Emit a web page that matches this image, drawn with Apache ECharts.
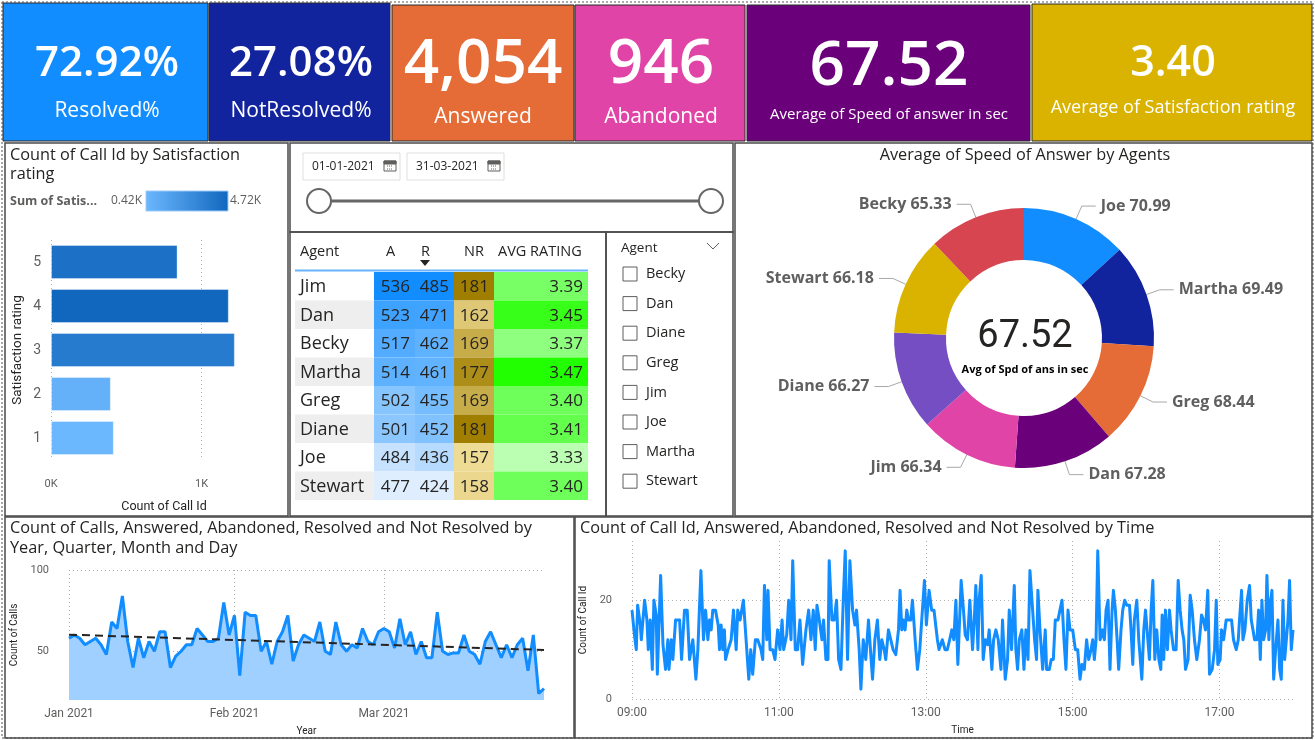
<!DOCTYPE html>
<html><head><meta charset="utf-8">
<script src="https://cdn.jsdelivr.net/npm/echarts@6/dist/echarts.min.js"></script>
<style>html,body{margin:0;padding:0;background:#fff;}#c{width:1315px;height:740px;}</style>
</head><body><div id="c"></div>
<script>
// ---------------- DATA ----------------
const kpiValues = ['72.92%', '27.08%', '4,054', '946', '67.52', '3.40'];
const kpiLabels = ['Resolved%', 'NotResolved%', 'Answered', 'Abandoned', 'Average of Speed of answer in sec', 'Average of Satisfaction rating'];

const ratingCats = ['1', '2', '3', '4', '5'];
const ratingCounts = [417, 397, 1220, 1180, 840];

const dateRange = ['01-01-2021', '31-03-2021'];

const tableHeaders = ['Agent', 'A', 'R', 'NR', 'AVG RATING'];
const agents = ['Jim', 'Dan', 'Becky', 'Martha', 'Greg', 'Diane', 'Joe', 'Stewart'];
const answered = [536, 523, 517, 514, 502, 501, 484, 477];
const resolved = [485, 471, 462, 461, 455, 452, 436, 424];
const notResolved = [181, 162, 169, 177, 169, 181, 157, 158];
const avgRating = [3.39, 3.45, 3.37, 3.47, 3.40, 3.41, 3.33, 3.40];

const slicerAgents = ['Becky', 'Dan', 'Diane', 'Greg', 'Jim', 'Joe', 'Martha', 'Stewart'];

const donutAgents = ['Joe', 'Martha', 'Greg', 'Dan', 'Jim', 'Diane', 'Stewart', 'Becky'];
const donutSpeed = [70.99, 69.49, 68.44, 67.28, 66.34, 66.27, 66.18, 65.33];
const donutCenterValue = '67.52';

const dailyStart = '2021-01-01';
const dailyCalls = [58,60,58,54,56,58,54,48,68,64, 84,56,40,58,46,56,50,62,62,40,
  47,50,54,54,64,60,56,56,58,80, 60,72,35,74,72,72,50,56,42,56,
  62,72,44,54,60,58,56,68,50,48, 68,54,50,54,52,64,56,54,62,64,
  62,52,70,54,62,48,56,46,46,74, 50,48,49,49,60,50,48,42,56,62,
  54,46,54,46,54,58,38,60,24,27];
const trendEnds = [60.2, 50.8];

// [minutes after 09:00, count of calls]
const callsByTime = [[0,18],[2,13],[3.5,10],[4.6,19],[6.8,15],[7.6,12],[10.3,20],[12.2,16],[13.3,10],[14.9,16],[16.6,6],[17.9,20],[19.8,17],[20.7,5],[23.4,25],[25.3,11],[27.4,6],[29.3,12],[30.2,6],[32.1,12],[33.4,8],[35.6,16],[38.9,16],[40.5,8],[42.9,18],[45.1,18],[47,8],[49.7,12],[52.2,4],[53.8,10],[55.2,10],[56.3,26],[58.4,12],[60.1,18],[62,12],[63.3,16],[64.7,14],[66,18],[68.2,18],[70.4,15],[71.5,10],[72.8,15],[74.2,10],[75.5,14],[76.4,8],[78.5,10],[81,12],[82.9,18],[85.1,10],[86.4,18],[88.3,16],[91,20],[93.2,12],[95.4,4],[97,10],[98.6,5],[100.8,12],[102.7,12],[105.4,10],[106.8,8],[108.2,23],[110.1,12],[111.1,22],[112.8,10],[114.9,10],[116.8,8],[119,14],[120.9,10],[122.6,16],[123.9,10],[126.4,13],[128,20],[129.9,12],[131.3,28],[133.4,10],[135.3,10],[137.2,16],[139.4,7],[142.1,14],[144.3,18],[146.2,12],[148.1,18],[149.7,10],[151.1,19],[153,16],[155.2,12],[156.5,16],[158.4,8],[160.1,8],[161.1,28],[163.3,16],[165.2,16],[167.1,20],[168.8,8],[170.7,6],[172.6,20],[174.2,30],[176.1,8],[178,28],[180.2,18],[182.1,15],[183.4,18],[185.6,10],[187,2],[188.9,12],[191,8],[193.2,16],[194.8,10],[196.5,4],[198.4,12],[200.5,16],[202.4,8],[204.1,12],[206,10],[207.3,8],[209.5,14],[211.4,12],[213.3,10],[215.5,9],[217.7,14],[219,22],[220.4,14],[221.5,16],[223.1,14],[224.5,18],[225.8,16],[227.7,16],[229.1,20],[231.3,12],[233.2,6],[235.1,10],[236.7,16],[238.9,24],[240.5,15],[242.7,22],[244.8,18],[246.7,18],[249.5,12],[250.8,10],[253.5,12],[255.7,10],[257.6,10],[259.5,12],
[261.3,14],[262.9,12],[264.6,20],[266.2,7],[268.9,24],[271.1,17],[272.2,13],[274.1,12],[276,20],[278.2,10],[279.6,16],[280.9,23],[282.6,10],[283.6,20],[285.3,25],[286.9,8],[288.6,12],[290.5,11],[291.8,14],[294,6],[295.4,12],[297.3,14],[299.2,12],[301.4,6],[302.7,16],[304.9,4],[306.8,8],[308.2,18],[310.1,10],[312.3,23],[313.6,10],[315,6],[316.4,12],[318.5,14],[320.2,6],[321.8,14],[323.5,8],[325.1,26],[327.3,18],[328.9,12],[330.5,8],[331.6,22],[333.3,14],[335.5,6],[337.6,14],[338.7,6],[340.9,6],[342.5,8],[344.2,8],[345.8,16],[348,16],[349.6,18],[351.3,20],[352.9,12],[354.5,6],[356.2,18],[357.8,14],[360,14],[362.2,10],[364.1,10],[366,4],[367.6,7],[369.5,6],[371.4,12],[373.1,8],[375,10],[376.4,12],[377.7,8],[379.1,12],[380.5,30],[382.4,12],[384.5,14],[385.9,12],[387.3,18],[388.9,20],[390.5,6],[392.2,18],[393.3,22],[394.9,18],[396.3,12],[397.6,6],[399.5,14],[400.9,18],[402.5,20],[404.2,19],[406.4,19],[407.7,14],[409.1,7],[410.4,16],[412.4,20],[414,12],[416.5,4],[418.1,14],[419.5,18],[421.4,12],[422.7,8],[424.1,18],[425.5,24],[427.1,8],[428.7,14],[430.4,8],[432,6],[433.1,17],[434.4,8],[435.8,18],[437.4,10],[439.1,18],[440.4,14],[442.4,10],[444.5,10],[446.2,24],[447.8,18],[449.4,14],[450.8,12],[452.2,6],[454.3,8],[456,21],[457.6,18],[459.5,12],[461.4,8],[463.6,12],[465.3,17],[466.9,16],[468.5,14],[470.4,22],[471.8,5],[474,6],[475.9,10],[477.3,20],[478.6,7],[480.5,8],[481.6,14],[483.3,12],[485.4,16],[487.6,16],[489.8,16],[491.4,12],[493.6,10],[495.3,12],[496.3,16],[498,22],[499.1,12],[500.7,14],[502.6,20],[504.5,23],[505.9,16],[507.3,14],[508.6,12],[510.5,12],[511.9,18],[513.3,8],[514.6,20],[516,12],[517.6,14],[518.7,25],[520.3,12],[521.7,20],[522.8,22],[524.2,4],[525.8,10],[527.7,16],[529.1,6],[530.4,4],[531.8,20],[533.2,8],[534.5,8],[535.9,16],[537.2,24],[538.6,10],[540,14]];

// ---------------- STYLE ----------------
const FONT = '"Open Sans", "Noto Sans", sans-serif';
const TFONT = 'Roboto, "Noto Sans", sans-serif';
const TXT = '#252423', GRAY = '#605E5C';
const kpiColors = ['#118DFF', '#12239E', '#E66C37', '#E044A7', '#6B007B', '#D9B300'];
const donutColors = ['#118DFF', '#12239E', '#E66C37', '#6B007B', '#E044A7', '#744EC2', '#D9B300', '#D64550'];
const gridDot = { type: [1, 3], color: '#B3B0AD', width: 1 };
const TITLE = 16.3;

const G = [];
function R(x, y, w, h, fill, stroke, lw, dash) {
  G.push({ type: 'rect', silent: true, shape: { x, y, width: w, height: h },
    style: { fill: fill || 'none', stroke: stroke || 'none', lineWidth: lw || 1, lineDash: dash || null } });
}
function T(x, y, text, o) {
  o = o || {};
  G.push({ type: 'text', silent: true, x, y, rotation: o.rot || 0, z: 20,
    style: { text, fill: o.color || TXT, fontSize: o.size || 12, fontFamily: o.family || FONT,
      fontWeight: o.weight || 'normal', textAlign: o.align || 'left', align: o.align || 'left',
      textVerticalAlign: 'middle', verticalAlign: 'middle' } });
}
function L(points, stroke, lw, dash) {
  G.push({ type: 'polyline', silent: true, shape: { points }, style: { stroke, lineWidth: lw || 1, fill: 'none', lineDash: dash || null } });
}
function C(cx, cy, r, fill, stroke, lw) {
  G.push({ type: 'circle', silent: true, shape: { cx, cy, r }, style: { fill, stroke, lineWidth: lw || 1 } });
}

// KPI cards
const cardBox = [[3,3,205,138],[209,3,181,138],[392,5,182,136],[575,5,170,136],[747,5,283,136],[1032,4,280,137]];
const cardVal = [[107,64,42],[301,64,42],[483,65,62],[661,65,62],[889,67,62],[1173,64,43]];
const cardLab = [[107,111,21],[301,111,21],[483,117,21],[661,117,21],[889,115,15],[1173,108,18]];
cardBox.forEach((b, i) => {
  R(b[0], b[1], b[2], b[3], kpiColors[i], '#2b2b2b', 1);
  T(cardVal[i][0], cardVal[i][1], kpiValues[i], { color: '#fff', size: cardVal[i][2], weight: 600, align: 'center' });
  T(cardLab[i][0], cardLab[i][1], kpiLabels[i], { color: '#fff', size: cardLab[i][2], align: 'center' });
});

// page dotted border
R(2, 2, 1311, 736, null, '#555', 1, [2, 2]);

// panels
[[5,143,283,373],[290,143,443,89],[290,232,316,284],[606,232,127,284],[735,143,577,373],[5,517,569,221],[575,517,737,221]]
  .forEach(p => R(p[0], p[1], p[2], p[3], null, '#4a4a4a', 1.5));

// bar panel texts
T(10, 155, 'Count of Call Id by Satisfaction', { size: TITLE });
T(10, 174, 'rating', { size: TITLE });
T(10, 201, 'Sum of Satis...', { size: 12.5, weight: 'bold', color: GRAY });
T(142, 201, (Math.min(...ratingCounts.map((c, i) => c * (i + 1))) / 1000).toFixed(2) + 'K', { size: 12, color: GRAY, align: 'right' });
T(230, 201, (Math.max(...ratingCounts.map((c, i) => c * (i + 1))) / 1000).toFixed(2) + 'K', { size: 12, color: GRAY });
G.push({ type: 'rect', silent: true, shape: { x: 146, y: 191, width: 82, height: 20 },
  style: { stroke: '#9ccaf7', lineWidth: 1, fill: { type: 'linear', x: 0, y: 0, x2: 1, y2: 0,
    colorStops: [{ offset: 0, color: '#6CB8FF' }, { offset: 1, color: '#1167BE' }] } } });

// date slicer
[[303, dateRange[0]], [407, dateRange[1]]].forEach(d => {
  R(d[0], 153, 97, 27, '#fff', '#E1DFDD', 1);
  T(d[0] + 9, 167, d[1], { size: 12 });
  R(d[0] + 81, 161, 12, 10, 'none', GRAY, 1);
  R(d[0] + 81, 161, 12, 3, GRAY, GRAY, 1);
  L([[d[0] + 84, 166], [d[0] + 90, 166]], GRAY, 1, [1, 1]);
  L([[d[0] + 84, 169], [d[0] + 90, 169]], GRAY, 1, [1, 1]);
});
L([[319, 201], [711, 201]], '#666', 3);
C(319, 201, 12, '#fff', '#666', 2);
C(711, 201, 12, '#fff', '#666', 2);

// table headers
const hdrX = [300, 386, 421, 464, 498];
tableHeaders.forEach((h, i) => T(hdrX[i], 252, h, { size: 14.5 }));
G.push({ type: 'polygon', silent: true, shape: { points: [[420, 260], [430, 260], [425, 266]] }, style: { fill: TXT } });
L([[295, 270.5], [588, 270.5]], '#6AB4FF', 2);

// agent slicer
T(621, 248, 'Agent', { size: 13.5 });
L([[707, 243], [713, 249], [719, 243]], GRAY, 1);
slicerAgents.forEach((a, i) => {
  const y = 274 + i * 29.6;
  R(623, y - 7, 14, 14, '#fff', '#605E5C', 1);
  T(646, y, a, { size: 14.5 });
});

// donut texts
T(1025, 155, 'Average of Speed of Answer by Agents', { size: TITLE, align: 'center' });
T(1025, 337, donutCenterValue, { size: 38, family: TFONT, align: 'center' });
T(1025, 370, 'Avg of Spd of ans in sec', { size: 11, weight: 'bold', color: '#000', align: 'center' });

// bottom titles
T(10, 528, 'Count of Calls, Answered, Abandoned, Resolved and Not Resolved by', { size: TITLE });
T(10, 548, 'Year, Quarter, Month and Day', { size: TITLE });
T(580, 528, 'Count of Call Id, Answered, Abandoned, Resolved and Not Resolved by Time', { size: TITLE });

// ---------------- DERIVED ----------------
const dates = [];
{ const d0 = new Date(dailyStart + 'T00:00:00Z');
  for (let i = 0; i < dailyCalls.length; i++) { const d = new Date(d0.getTime() + i * 86400000); dates.push(d.toISOString().slice(0, 10)); } }
const months = ['Jan','Feb','Mar','Apr','May','Jun','Jul','Aug','Sep','Oct','Nov','Dec'];

const tableCols = [answered, resolved, notResolved, avgRating];
const colEdges = [0, 79, 120, 159, 199, 293];
const colRamps = [[[222,238,254],[17,141,255]], [[222,238,254],[17,141,255]], [[238,220,148],[160,126,0]], [[187,255,179],[34,255,0]]];
function cellColor(c, v) {
  const arr = tableCols[c], mn = Math.min(...arr), mx = Math.max(...arr);
  const t = mx === mn ? 1 : (v - mn) / (mx - mn);
  const a = colRamps[c][0], b = colRamps[c][1];
  return 'rgb(' + a.map((x, k) => Math.round(x + (b[k] - x) * t)).join(',') + ')';
}
const tableData = [];
agents.forEach((a, r) => {
  tableData.push([-1, r, 0]);
  tableCols.forEach((col, c) => tableData.push([c, r, col[r]]));
});

// ---------------- CHART ----------------
const chart = echarts.init(document.getElementById('c'), null, { width: 1315, height: 740 });
const axisLbl = { color: GRAY, fontFamily: TFONT };
chart.setOption({
  animation: false,
  backgroundColor: '#fff',
  graphic: { elements: G },
  grid: [
    { left: 51, top: 240, width: 226, height: 220 },
    { left: 295, top: 272, width: 293, height: 228 },
    { left: 69, top: 570, width: 475, height: 130 },
    { left: 632, top: 541, width: 661, height: 158 }
  ],
  xAxis: [
    { type: 'value', gridIndex: 0, min: 0, max: 1500, interval: 1000,
      axisLine: { show: false }, axisTick: { show: false },
      axisLabel: Object.assign({ fontSize: 11, margin: 19, showMaxLabel: false, formatter: v => v % 1000 === 0 ? (v / 1000) + 'K' : '' }, axisLbl),
      splitLine: { show: true, showMaxLine: false, lineStyle: gridDot },
      name: 'Count of Call Id', nameLocation: 'middle', nameGap: 40, nameTextStyle: { color: TXT, fontSize: 12.5, fontFamily: TFONT } },
    { type: 'value', gridIndex: 1, min: 0, max: 293, show: false },
    { type: 'category', gridIndex: 2, data: dates, boundaryGap: false,
      axisLine: { show: false }, axisTick: { show: false },
      axisLabel: Object.assign({ fontSize: 12, margin: 8, interval: (i, v) => v.slice(8) === '01',
        formatter: v => months[+v.slice(5, 7) - 1] + ' ' + v.slice(0, 4) }, axisLbl),
      splitLine: { show: true, interval: (i, v) => v.slice(8) === '01', lineStyle: gridDot },
      name: 'Year', nameLocation: 'middle', nameGap: 26, nameTextStyle: { color: TXT, fontSize: 10, fontFamily: TFONT } },
    { type: 'value', gridIndex: 3, min: 0, max: 540, interval: 120,
      axisLine: { show: false }, axisTick: { show: false },
      axisLabel: Object.assign({ fontSize: 12, margin: 8, showMaxLabel: false,
        formatter: v => v % 120 === 0 ? String(9 + v / 60).padStart(2, '0') + ':00' : '' }, axisLbl),
      splitLine: { show: true, showMaxLine: false, lineStyle: gridDot },
      name: 'Time', nameLocation: 'middle', nameGap: 26, nameTextStyle: { color: TXT, fontSize: 10, fontFamily: TFONT } }
  ],
  yAxis: [
    { type: 'category', gridIndex: 0, data: ratingCats,
      axisLine: { show: false }, axisTick: { show: false },
      axisLabel: Object.assign({ fontSize: 14, margin: 10 }, axisLbl),
      name: 'Satisfaction rating', nameLocation: 'middle', nameGap: 26, nameRotate: 90,
      nameTextStyle: { color: TXT, fontSize: 13.5, fontFamily: TFONT } },
    { type: 'category', gridIndex: 1, data: agents, inverse: true, show: false },
    { type: 'value', gridIndex: 2, min: 20, max: 100, interval: 10,
      axisLine: { show: false }, axisTick: { show: false }, splitLine: { show: false },
      axisLabel: Object.assign({ fontSize: 11, margin: 20, formatter: v => (v === 50 || v === 100) ? String(v) : '' }, axisLbl),
      name: 'Count of Calls', nameLocation: 'middle', nameGap: 50, nameRotate: 90,
      nameTextStyle: { color: TXT, fontSize: 10, fontFamily: TFONT } },
    { type: 'value', gridIndex: 3, min: 0, max: 32, interval: 20,
      axisLine: { show: false }, axisTick: { show: false },
      splitLine: { show: true, showMaxLine: false, lineStyle: gridDot },
      axisLabel: Object.assign({ fontSize: 11, margin: 20, showMaxLabel: false, formatter: v => v % 20 === 0 ? String(v) : '' }, axisLbl),
      name: 'Count of Call Id', nameLocation: 'middle', nameGap: 42, nameRotate: 90,
      nameTextStyle: { color: TXT, fontSize: 10, fontFamily: TFONT } }
  ],
  visualMap: [{ type: 'continuous', show: false, seriesIndex: 0, dimension: 2,
    min: Math.min(...ratingCounts.map((c, i) => c * (i + 1))), max: Math.max(...ratingCounts.map((c, i) => c * (i + 1))),
    inRange: { color: ['#6CB8FF', '#1167BE'] } }],
  series: [
    { type: 'bar', xAxisIndex: 0, yAxisIndex: 0, barWidth: 34,
      encode: { x: 0, y: 1 },
      data: ratingCounts.map((c, i) => [c, i, c * (i + 1)]),
      itemStyle: { borderColor: 'rgba(255,255,255,0.35)', borderWidth: 1 } },
    { type: 'custom', xAxisIndex: 1, yAxisIndex: 1, data: tableData,
      encode: { x: 0, y: 1 },
      renderItem: function (params, api) {
        const c = api.value(0), r = api.value(1), v = api.value(2);
        const p0 = api.coord([colEdges[c + 1], r]);
        const p1 = api.coord([colEdges[c + 2], r]);
        const h = api.size([0, 1])[1];
        const x = p0[0], w = p1[0] - p0[0], y = p0[1] - h / 2;
        if (c === -1) {
          return { type: 'group', children: [
            { type: 'rect', shape: { x, y, width: w, height: h }, style: { fill: r % 2 ? '#EEEEEE' : '#FFFFFF' } },
            { type: 'text', x: x + 5, y: p0[1] + 1, style: { text: agents[r], fill: TXT, fontSize: 18, fontFamily: FONT, align: 'left', verticalAlign: 'middle' } }
          ] };
        }
        return { type: 'group', children: [
          { type: 'rect', shape: { x, y, width: w, height: h }, style: { fill: cellColor(c, v) } },
          { type: 'text', x: x + w - 5, y: p0[1] + 1, style: { text: c === 3 ? v.toFixed(2) : String(v), fill: TXT, fontSize: 17, fontFamily: FONT, align: 'right', verticalAlign: 'middle' } }
        ] };
      } },
    { type: 'pie', center: [1024, 338], radius: [78, 130], startAngle: 90, clockwise: true,
      data: donutAgents.map((n, i) => ({ name: n, value: donutSpeed[i], itemStyle: { color: donutColors[i] } })),
      label: { formatter: p => p.name + ' ' + p.value.toFixed(2), fontSize: 16, fontWeight: 'bold', color: '#5F5F5F', fontFamily: FONT },
      labelLine: { length: 14, length2: 14, lineStyle: { color: '#A8A8A8', width: 1 } },
      emphasis: { disabled: true } },
    { type: 'line', xAxisIndex: 2, yAxisIndex: 2, data: [], z: 1,
      markLine: { silent: true, z: 1, symbol: ['none', 'none'], label: { show: false },
        lineStyle: gridDot, data: [{ yAxis: 50 }, { yAxis: 100 }] } },
    { type: 'line', xAxisIndex: 2, yAxisIndex: 2, data: dailyCalls, symbol: 'none', z: 3,
      lineStyle: { color: '#118DFF', width: 3 }, itemStyle: { color: '#118DFF' },
      areaStyle: { color: '#A0D0FF', opacity: 1 },
      markLine: { silent: true, symbol: ['none', 'none'], label: { show: false },
        lineStyle: { color: '#252423', type: [8, 5], width: 2 },
        data: [[{ coord: [dates[0], trendEnds[0]] }, { coord: [dates[dates.length - 1], trendEnds[1]] }]] } },
    { type: 'line', xAxisIndex: 3, yAxisIndex: 3, data: callsByTime, symbol: 'none',
      lineStyle: { color: '#118DFF', width: 3, join: 'round' }, itemStyle: { color: '#118DFF' } }
  ]
});
</script></body></html>
